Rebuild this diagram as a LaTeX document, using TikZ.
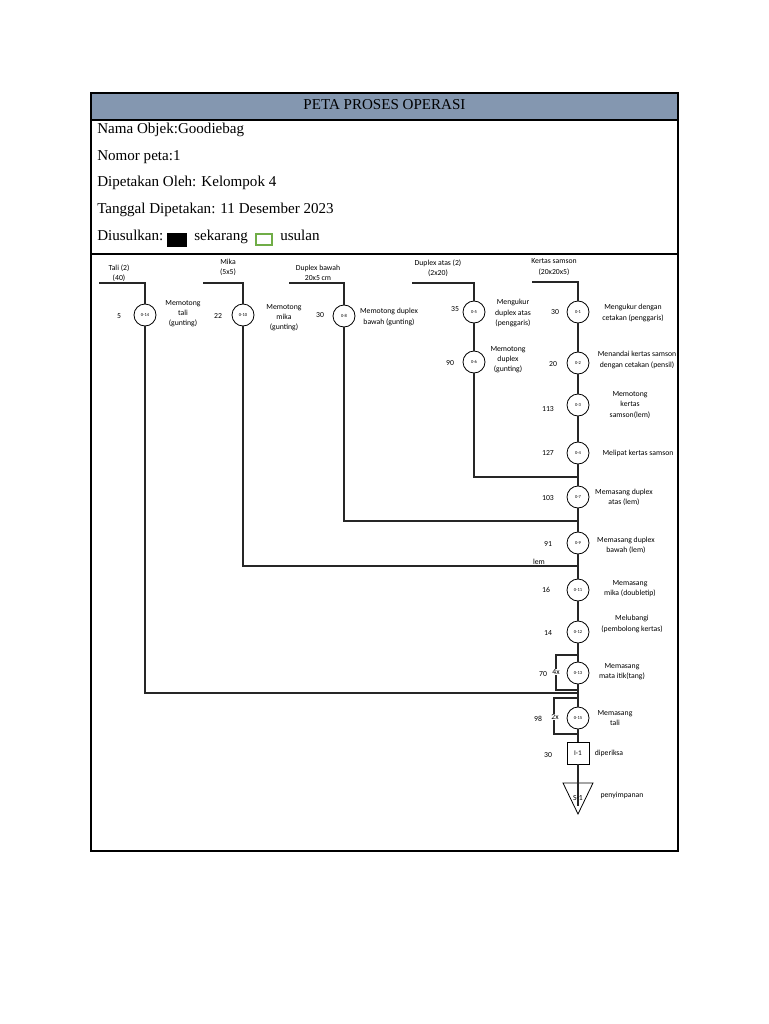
\documentclass[tikz,border=0pt]{standalone}
\usepackage{fontspec}
\setmainfont{Liberation Serif}
\newfontfamily\calfont{Carlito}
\definecolor{headblue}{HTML}{8497B0}
\definecolor{boxgreen}{HTML}{70AD47}
\begin{document}
\begin{tikzpicture}[x=0.75pt,y=-0.75pt,
  ln/.style={line width=0.8pt,black!85},
  op/.style={circle,draw,line width=0.6pt,minimum size=16.5pt,inner sep=0pt,fill=white,font=\calfont\fontsize{3.4pt}{4pt}\selectfont},
  insp/.style={rectangle,draw,line width=0.6pt,minimum size=16.5pt,inner sep=0pt,fill=white,font=\calfont\fontsize{5.4pt}{6pt}\selectfont},
  lbl/.style={inner sep=0pt,align=center,font=\calfont\fontsize{5.8pt}{7.6pt}\selectfont},
  hdr/.style={inner sep=0pt,anchor=base west,font=\fontsize{11.3pt}{13pt}\selectfont}]
\useasboundingbox (0,0) rectangle (768,1024);
% frame and header
\fill[headblue] (91,93) rectangle (678,120);
\draw[line width=0.8pt] (91,93) rectangle (678,851);
\draw[line width=0.8pt] (91,120) -- (678,120);
\draw[line width=0.8pt] (91,254) -- (678,254);
\node[inner sep=0pt,anchor=base,font=\fontsize{11.3pt}{13pt}\selectfont] (title) at (384.5,109) {PETA PROSES OPERASI};
\node[hdr] (r1) at (97,133.5) {Nama Objek:Goodiebag};
\node[hdr] (r2) at (97,160) {Nomor peta:1};
\node[hdr] (r3) at (97,186.5) {Dipetakan Oleh: Kelompok 4};
\node[hdr] (r4) at (97,213) {Tanggal Dipetakan: 11 Desember 2023};
\node[hdr] (r5) at (97,240) {Diusulkan:};
\fill[black] (167,233) rectangle (187,247);
\node[hdr] (r6) at (194,240) {sekarang};
\draw[boxgreen,line width=0.8pt] (256,234) rectangle (272,245);
\node[hdr] (r7) at (280,240) {usulan};

% coordinates for feeder lines
\coordinate (taliS) at (99,283);  \coordinate (taliC) at (145,283);
\coordinate (mikaS) at (203,283); \coordinate (mikaC) at (243,283);
\coordinate (dbS) at (289,283);   \coordinate (dbC) at (344,283);
\coordinate (daS) at (412,283);   \coordinate (daC) at (474,283);
\coordinate (ksS) at (532,282);   \coordinate (ksC) at (578,282);
\coordinate (j6a) at (474,477);   \coordinate (j6b) at (578,477);
\coordinate (j8a) at (344,521);   \coordinate (j8b) at (578,521);
\coordinate (j10a) at (243,566);  \coordinate (j10b) at (578,566);
\coordinate (j14a) at (145,693);  \coordinate (j14b) at (578,693);
\coordinate (l4a) at (578,655); \coordinate (l4b) at (556,655); \coordinate (l4c) at (556,690); \coordinate (l4d) at (578,690);
\coordinate (l2a) at (578,698); \coordinate (l2b) at (554,698); \coordinate (l2c) at (554,734); \coordinate (l2d) at (578,734);
\coordinate (send) at (578,806);
\draw[ln] (l4a) -- (l4b) -- (l4c) -- (l4d);
\draw[ln] (l2a) -- (l2b) -- (l2c) -- (l2d);

% operation nodes
\node[op] (o14) at (145,315) {0-14};
\node[op] (o10) at (243,315) {0-10};
\node[op] (o8) at (344,316) {0-8};
\node[op] (o5) at (474,312) {0-5};
\node[op] (o6) at (474,362) {0-6};
\node[op] (o1) at (578,312) {0-1};
\node[op] (o2) at (578,363) {0-2};
\node[op] (o3) at (578,405) {0-3};
\node[op] (o4) at (578,453) {0-4};
\node[op] (o7) at (578,497) {0-7};
\node[op] (o9) at (578,543) {0-9};
\node[op] (o11) at (578,590) {0-11};
\node[op] (o12) at (578,632) {0-12};
\node[op] (o13) at (578,673) {0-13};
\node[op] (o15) at (578,718) {0-15};
\node[insp] (i1) at (578,753) {I-1};
\coordinate (s1tl) at (563,783);
\coordinate (s1tr) at (593,783);
\coordinate (s1b) at (578,814);

% connectors
\draw[ln] (taliS) -- (taliC) -- (o14.north);
\draw[ln] (o14.south) -- (j14a) -- (j14b);
\draw[ln] (mikaS) -- (mikaC) -- (o10.north);
\draw[ln] (o10.south) -- (j10a) -- (j10b);
\draw[ln] (dbS) -- (dbC) -- (o8.north);
\draw[ln] (o8.south) -- (j8a) -- (j8b);
\draw[ln] (daS) -- (daC) -- (o5.north);
\draw[ln] (o5.south) -- (o6.north);
\draw[ln] (o6.south) -- (j6a) -- (j6b);
\draw[ln] (ksS) -- (ksC) -- (o1.north);
\draw[ln] (o1) -- (o2);
\draw[ln] (o2) -- (o3);
\draw[ln] (o3) -- (o4);
\draw[ln] (o4) -- (o7);
\draw[ln] (o7) -- (o9);
\draw[ln] (o9) -- (o11);
\draw[ln] (o11) -- (o12);
\draw[ln] (o12) -- (o13);
\draw[ln] (o13) -- (o15);
\draw[ln] (o15) -- (i1);
\draw[line width=0.6pt] (s1tl) -- (s1tr) -- (s1b) -- cycle;
\draw[ln] (i1.south) -- (send);
\node[lbl] (s1) at (578,798) {S-1};

% material labels
\node[lbl] (tTali) at (119,273) {Tali (2)\\(40)};
\node[lbl] (tMika) at (228,267.5) {Mika\\(5x5)};
\node[lbl] (tDb) at (318,272.5) {Duplex bawah\\20x5 cm};
\node[lbl] (tDa) at (438,268) {Duplex atas (2)\\(2x20)};
\node[lbl] (tKs) at (554,267) {Kertas samson\\(20x20x5)};

% times
\node[lbl] (n14) at (119,316) {5};
\node[lbl] (n10) at (218,316) {22};
\node[lbl] (n8) at (320,315) {30};
\node[lbl] (n5) at (455,309) {35};
\node[lbl] (n6) at (450,363) {90};
\node[lbl] (n1) at (555,312) {30};
\node[lbl] (n2) at (553,364) {20};
\node[lbl] (n3) at (548,409) {113};
\node[lbl] (n4) at (548,453) {127};
\node[lbl] (n7) at (548,498) {103};
\node[lbl] (n9) at (548,544) {91};
\node[lbl] (n11) at (546,590) {16};
\node[lbl] (n12) at (548,633) {14};
\node[lbl] (n13) at (543,674) {70};
\node[lbl,fill=white,inner sep=0.6pt] (x13) at (556,672) {4x};
\node[lbl] (n15) at (538,719) {98};
\node[lbl,fill=white,inner sep=0.6pt] (x15) at (555,717) {2x};
\node[lbl] (ni1) at (548,755) {30};
\node[lbl] (lem) at (539,562) {lem};

% descriptions
\node[lbl] (d14) at (183,314) {Memotong\\tali\\(gunting)};
\node[lbl] (d10) at (284,318) {Memotong\\mika\\(gunting)};
\node[lbl] (d8) at (389,317) {Memotong duplex\\bawah (gunting)};
\node[lbl] (d5) at (513,313) {Mengukur\\duplex atas\\(penggaris)};
\node[lbl] (d6) at (508,360) {Memotong\\duplex\\(gunting)};
\node[lbl] (d1) at (633,313) {Mengukur dengan\\cetakan (penggaris)};
\node[lbl] (d2) at (637,360) {Menandai kertas samson\\dengan cetakan (pensil)};
\node[lbl] (d3) at (630,405) {Memotong\\kertas\\samson(lem)};
\node[lbl] (d4) at (638,453) {Melipat kertas samson};
\node[lbl] (d7) at (624,497.5) {Memasang duplex\\atas (lem)};
\node[lbl] (d9) at (626,545) {Memasang duplex\\bawah (lem)};
\node[lbl] (d11) at (630,589) {Memasang\\mika (doubletip)};
\node[lbl] (d12) at (632,624) {Melubangi\\(pembolong kertas)};
\node[lbl] (d13) at (622,672) {Memasang\\mata itik(tang)};
\node[lbl] (d15) at (615,718) {Memasang\\tali};
\node[lbl] (di1) at (609,753) {diperiksa};
\node[lbl] (ds1) at (622,795) {penyimpanan};
\end{tikzpicture}
\end{document}
